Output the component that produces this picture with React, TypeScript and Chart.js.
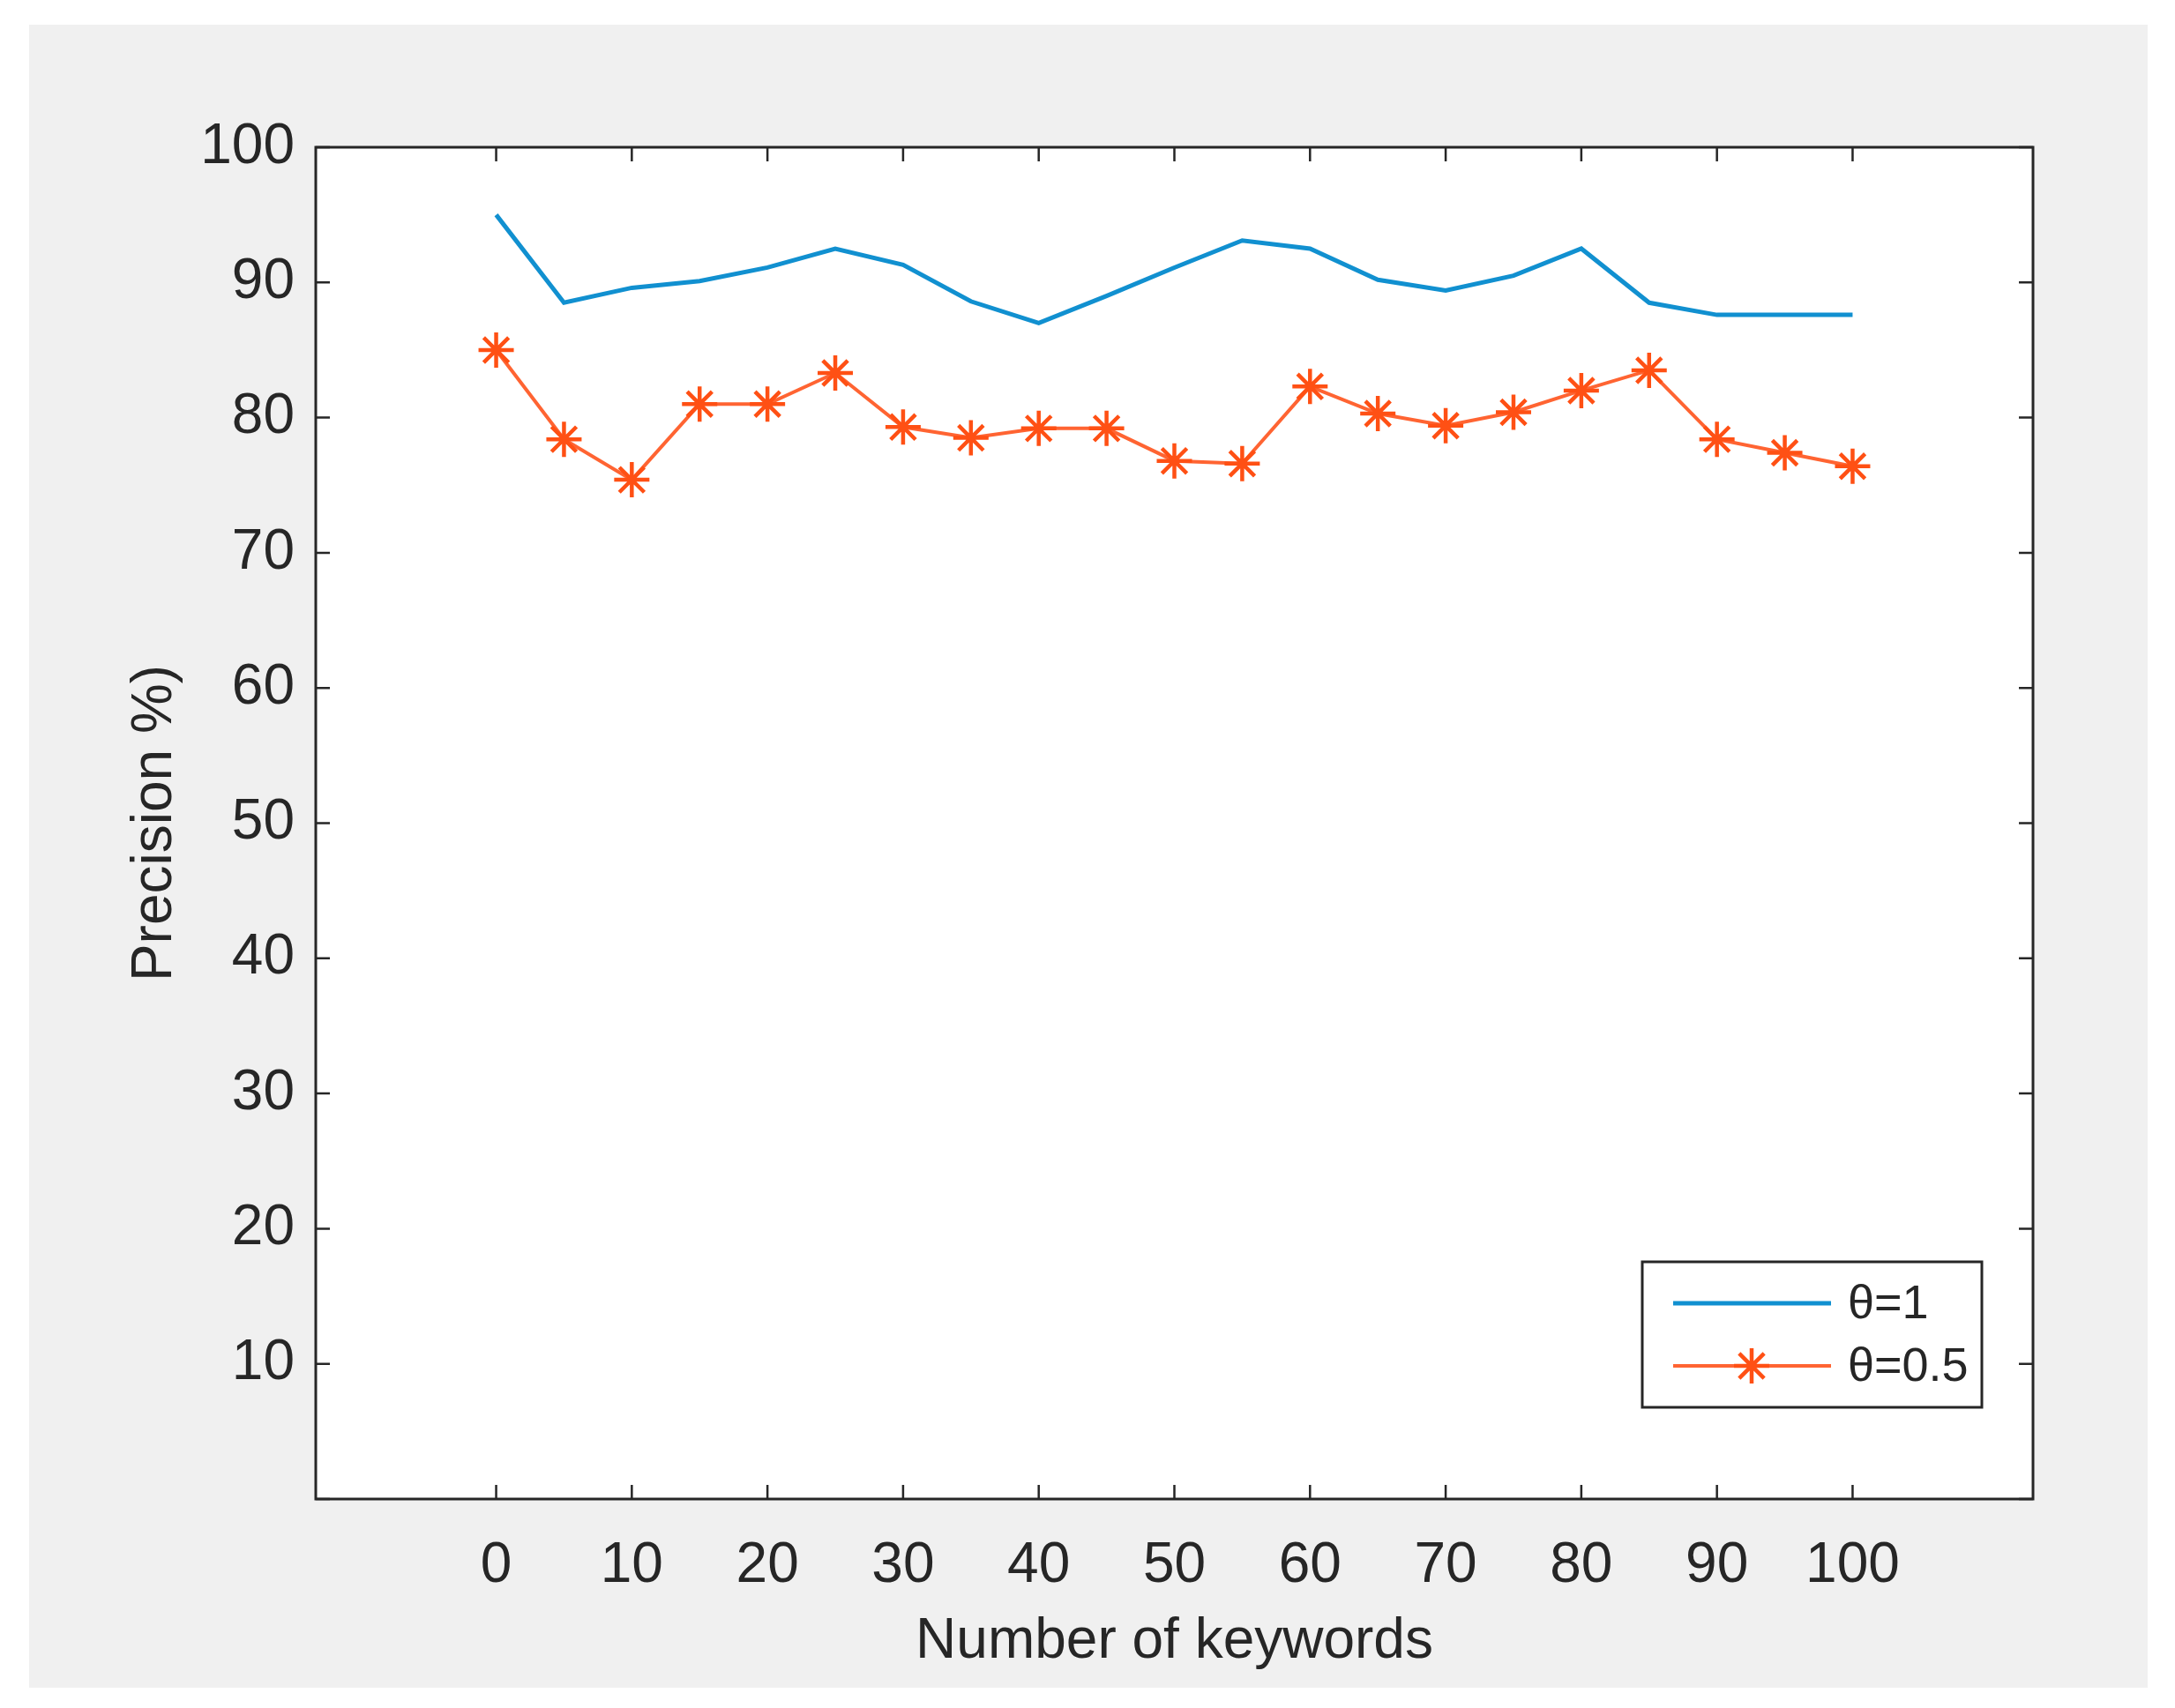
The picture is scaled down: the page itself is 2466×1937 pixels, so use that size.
import React, { useEffect, useRef } from 'react';
import { Chart, registerables } from 'chart.js';

Chart.register(...registerables);

// ---- data ----
const keywords = [0, 5, 10, 15, 20, 25, 30, 35, 40, 45, 50, 55, 60, 65, 70, 75, 80, 85, 90, 95, 100];
const theta1 = [95.0, 88.5, 89.6, 90.1, 91.1, 92.5, 91.3, 88.6, 87.0, 89.0, 91.1, 93.1, 92.5, 90.2, 89.4, 90.5, 92.5, 88.5, 87.6, 87.6, 87.6];
const theta05 = [85.0, 78.4, 75.4, 81.0, 81.0, 83.3, 79.3, 78.5, 79.2, 79.2, 76.8, 76.6, 82.3, 80.3, 79.4, 80.4, 82.0, 83.5, 78.4, 77.4, 76.4];
const seriesLabels = ['θ=1', 'θ=0.5'];
const xTickValues = [0, 10, 20, 30, 40, 50, 60, 70, 80, 90, 100];
const yTickValues = [0, 10, 20, 30, 40, 50, 60, 70, 80, 90, 100];
const xTitle = 'Number of keywords';
const yTitle = 'Precision %)';

// ---- styling ----
const W = 2466;
const H = 1937;
const FONT = '"Liberation Sans", Arial, Helvetica, sans-serif';
const INK = '#262626';
const BLUE = '#1190D0';
const ORANGE_LINE = 'rgb(255,100,50)';
const ORANGE_MARK = 'rgb(255,80,20)';

function drawStar(ctx: CanvasRenderingContext2D, x: number, y: number, r: number) {
  ctx.beginPath();
  ctx.moveTo(x, y - r); ctx.lineTo(x, y + r);
  ctx.moveTo(x - r, y); ctx.lineTo(x + r, y);
  const d = r * Math.SQRT1_2;
  ctx.moveTo(x - d, y - d); ctx.lineTo(x + d, y + d);
  ctx.moveTo(x - d, y + d); ctx.lineTo(x + d, y - d);
  ctx.stroke();
}

const framePlugin = {
  id: 'matlabFrame',
  beforeDraw(chart: any) {
    const { ctx, chartArea: a } = chart;
    ctx.save();
    ctx.fillStyle = '#ffffff';
    ctx.fillRect(0, 0, W, H);
    ctx.fillStyle = '#f0f0f0';
    ctx.fillRect(33, 28, 2402, 1886);
    ctx.fillStyle = '#ffffff';
    ctx.fillRect(a.left, a.top, a.right - a.left, a.bottom - a.top);
    ctx.restore();
  },
  afterDatasetsDraw(chart: any) {
    const { ctx, chartArea: a, scales } = chart;
    ctx.save();
    // inward ticks on all four sides
    const tl = 16;
    ctx.strokeStyle = INK;
    ctx.lineWidth = 2.5;
    ctx.beginPath();
    scales.x.ticks.forEach((t: any) => {
      const px = scales.x.getPixelForValue(t.value);
      ctx.moveTo(px, a.bottom); ctx.lineTo(px, a.bottom - tl);
      ctx.moveTo(px, a.top); ctx.lineTo(px, a.top + tl);
    });
    scales.y.ticks.forEach((t: any) => {
      const py = scales.y.getPixelForValue(t.value);
      ctx.moveTo(a.left, py); ctx.lineTo(a.left + tl, py);
      ctx.moveTo(a.right, py); ctx.lineTo(a.right - tl, py);
    });
    ctx.stroke();
    // box
    ctx.lineWidth = 3;
    ctx.strokeRect(a.left, a.top, a.right - a.left, a.bottom - a.top);

    // legend box
    const lx = 1862, ly = 1431, lw = 385, lh = 165;
    ctx.fillStyle = '#ffffff';
    ctx.fillRect(lx, ly, lw, lh);
    ctx.strokeStyle = INK;
    ctx.lineWidth = 3;
    ctx.strokeRect(lx, ly, lw, lh);
    chart.data.datasets.forEach((ds: any, i: number) => {
      const y = 1478 + i * 71;
      ctx.strokeStyle = ds.borderColor;
      ctx.lineWidth = ds.borderWidth;
      ctx.beginPath();
      ctx.moveTo(1897, y);
      ctx.lineTo(2076, y);
      ctx.stroke();
      if (ds.pointRadius > 0) {
        ctx.strokeStyle = ds.pointBorderColor;
        ctx.lineWidth = ds.pointBorderWidth;
        drawStar(ctx, 1986, y, ds.pointRadius);
      }
      ctx.fillStyle = INK;
      ctx.font = `54px ${FONT}`;
      ctx.textBaseline = 'middle';
      ctx.textAlign = 'left';
      ctx.fillText(ds.label, 2095, y + 2);
    });
    ctx.restore();
  },
};

export default function App() {
  const ref = useRef<HTMLCanvasElement>(null);

  useEffect(() => {
    if (!ref.current) return;
    const chart = new Chart(ref.current, {
      type: 'line',
      data: {
        datasets: [
          {
            label: seriesLabels[0],
            data: keywords.map((k, i) => ({ x: k, y: theta1[i] })),
            borderColor: BLUE,
            borderWidth: 5,
            pointRadius: 0,
            tension: 0,
          },
          {
            label: seriesLabels[1],
            data: keywords.map((k, i) => ({ x: k, y: theta05[i] })),
            borderColor: ORANGE_LINE,
            borderWidth: 4,
            pointStyle: 'star',
            pointRadius: 20,
            pointBorderWidth: 4.5,
            pointBorderColor: ORANGE_MARK,
            pointBackgroundColor: ORANGE_MARK,
            tension: 0,
          },
        ],
      },
      options: {
        responsive: false,
        animation: false,
        devicePixelRatio: 1,
        layout: { padding: { left: 0, top: 167, right: 161, bottom: 0 } },
        plugins: {
          legend: { display: false },
          tooltip: { enabled: false },
        },
        scales: {
          x: {
            type: 'linear',
            min: -13.3,
            max: 113.3,
            afterBuildTicks: (s: any) => { s.ticks = xTickValues.map((v) => ({ value: v })); },
            afterFit: (s: any) => { s.height = 237; },
            grid: { display: false, drawTicks: false },
            border: { display: false },
            ticks: {
              callback: (v: any) => String(v),
              color: INK,
              font: { family: FONT, size: 64 },
              padding: 38,
              maxRotation: 0,
              autoSkip: false,
            },
            title: {
              display: true,
              text: xTitle,
              color: INK,
              font: { family: FONT, size: 64 },
              padding: { top: 0, bottom: 36 },
            },
          },
          y: {
            type: 'linear',
            min: 0,
            max: 100,
            afterBuildTicks: (s: any) => { s.ticks = yTickValues.map((v) => ({ value: v })); },
            afterFit: (s: any) => { s.width = 358; },
            grid: { display: false, drawTicks: false },
            border: { display: false },
            ticks: {
              callback: (v: any) => (v === 0 ? '' : String(v)),
              color: INK,
              font: { family: FONT, size: 64 },
              padding: 24,
              autoSkip: false,
            },
            title: {
              display: true,
              text: yTitle,
              color: INK,
              font: { family: FONT, size: 64 },
              padding: { top: 138, bottom: 0 },
            },
          },
        },
      },
      plugins: [framePlugin],
    });
    return () => chart.destroy();
  }, []);

  return (
    <div style={{ position: 'absolute', left: 0, top: 0, width: W, height: H, background: '#fff' }}>
      <canvas ref={ref} width={W} height={H} style={{ display: 'block', width: W, height: H }} />
    </div>
  );
}
